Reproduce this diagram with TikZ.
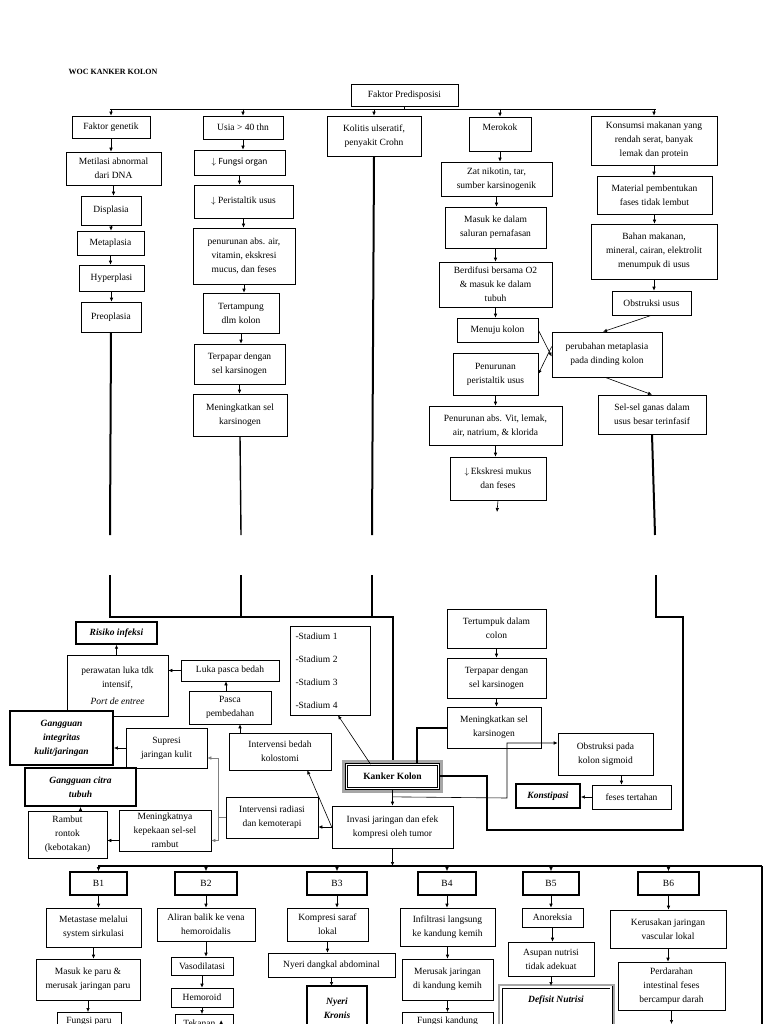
\documentclass[tikz,border=0pt]{standalone}
\usepackage{fontspec}
\usepackage{amssymb}
\setmainfont{Liberation Serif}
\newfontfamily\carl{Carlito}
\usetikzlibrary{arrows.meta}
\begin{document}
\begin{tikzpicture}[x=1pt,y=-1pt,
  every node/.style={font=\fontsize{9.5}{14}\selectfont},
  b/.style={draw,fill=white,align=center,inner sep=1pt,line width=0.6pt},
  dg/.style={b,line width=1.8pt,font=\fontsize{9.5}{14}\selectfont\bfseries\itshape},
  a/.style={-{Latex[length=4pt,width=3.5pt]},line width=0.6pt},
  tk/.style={line width=2pt},
  tm/.style={line width=1.4pt}]
\useasboundingbox (0,0) rectangle (768,1024);
\clip (0,0) rectangle (768,1024);
\newcommand\bx[7][]{\node[b,#1,minimum width={#5-#3},minimum height={#6-#4}] (#2) at ({(#3+#5)/2},{(#4+#6)/2}) {#7};}
\newcommand\dn[2]{\draw[a] (#1.south) -- (#1.south |- #2.north);}
\newcommand\cb[6][]{\draw[line width=0.6pt,#1] (#3,#4) rectangle (#5,1060); \node (#2) at ({(#3+#5)/2},{#4+9}) {#6};}

\node[anchor=west,font=\fontsize{8}{10}\selectfont\bfseries] (title) at (65,72) {WOC KANKER KOLON};
\bx{fp}{351}{84}{458}{106}{Faktor Predisposisi}
\coordinate (bus) at (0,109);
\draw[line width=0.6pt] (fp.south) -- (fp.south |- bus);
\draw[line width=0.6pt] (110,109) -- (656,109);

% column 1
\bx{g1}{72}{116}{150}{138}{Faktor genetik}
\bx{g2}{66}{152}{161}{185}{Metilasi abnormal\\dari DNA}
\bx{g3}{81}{196}{141}{225}{Displasia}
\bx{g4}{77}{231}{144}{255}{Metaplasia}
\bx{g5}{79}{265}{144}{291}{Hyperplasi}
\bx{g6}{81}{302}{141}{332}{Preoplasia}
% column 2
\bx{u1}{203}{116}{283}{139}{Usia > 40 thn}
\bx{u2}{194}{150}{285}{175}{$\downarrow$\ {\carl Fungsi organ}}
\bx{u3}{194}{185}{293}{218}{$\downarrow$\ Peristaltik usus}
\bx{u4}{193}{228}{295}{284}{penurunan abs. air,\\vitamin, ekskresi\\mucus, dan feses}
\bx{u5}{203}{293}{279}{333}{Tertampung\\dlm kolon}
\bx{u6}{194}{344}{285}{384}{Terpapar dengan\\sel karsinogen}
\bx{u7}{193}{394}{287}{436}{Meningkatkan sel\\karsinogen}
% column 3
\bx{k1}{327}{116}{421}{156}{Kolitis ulseratif,\\penyakit Crohn}
% column 4
\bx{m1}{469}{117}{531}{151}{Merokok\\\mbox{}}
\bx{m2}{441}{162}{552}{196}{Zat nikotin, tar,\\sumber karsinogenik}
\bx{m3}{445}{207}{546}{248}{Masuk ke dalam\\saluran pernafasan}
\bx{m4}{439}{262}{552}{307}{Berdifusi bersama O2\\\& masuk ke dalam\\tubuh}
\bx{m5}{457}{318}{538}{342}{Menuju kolon}
\bx{pm}{552}{332}{662}{377}{perubahan metaplasia\\pada dinding kolon}
\bx{m6}{453}{353}{538}{395}{Penurunan\\peristaltik usus}
\bx{m7}{429}{406}{562}{445}{Penurunan abs. Vit, lemak,\\air, natrium, \& klorida}
\bx{m8}{450}{457}{546}{500}{$\downarrow$\,Ekskresi mukus\\dan feses}
\coordinate (m8e) at (497,512);
% column 5
\bx{c1}{591}{116}{717}{165}{Konsumsi makanan yang\\rendah serat, banyak\\lemak dan protein}
\bx{c2}{597}{176}{712}{214}{Material pembentukan\\fases tidak lembut}
\bx{c3}{591}{224}{717}{279}{Bahan makanan,\\mineral, cairan, elektrolit\\menumpuk di usus}
\bx{c4}{612}{291}{691}{315}{Obstruksi usus}
\bx{sg}{598}{395}{706}{434}{Sel-sel ganas dalam\\usus besar terinfasif}

\foreach \n in {g1,u1,k1,m1,c1} \draw[a] (bus -| \n.north) -- (\n.north);
\dn{g1}{g2}\dn{g2}{g3}\dn{g3}{g4}\dn{g4}{g5}\dn{g5}{g6}
\dn{u1}{u2}\dn{u2}{u3}\dn{u3}{u4}\dn{u4}{u5}\dn{u5}{u6}\dn{u6}{u7}
\dn{m1}{m2}\dn{m2}{m3}\dn{m3}{m4}\dn{m4}{m5}\dn{m6}{m7}\dn{m7}{m8}
\draw[a] (m8.south) -- (m8e);
\dn{c1}{c2}\dn{c2}{c3}\dn{c3}{c4}
\draw[a] (c4.south) -- ([xshift=-4pt]pm.north);
\draw[a] (m5.east) -- ([yshift=-2pt]pm.west);
\draw[a] ([yshift=8pt]pm.west) -- (m6.east);
\draw[a] ([xshift=-2pt]pm.south) -- (sg.north);

% long lines
\draw[tk] (g6.south) -- (110,535);
\draw[tm] (u7.south) -- (241,535);
\draw[tk] (k1.south) -- (372,535);
\draw[tk] (sg.south) -- (655,535);

% lower part
\draw[tk] (110,575) -- (110,617) -- (392.5,617) -- (392.5,762);
\draw[tm] (241,575) -- (241,617);
\draw[tk] (372,575) -- (372,617);

\bx{st}{290}{626}{370}{715}{}
\node[anchor=north west,align=left,font=\fontsize{9.5}{23}\selectfont] (stt) at (292,629) {-Stadium 1\\-Stadium 2\\-Stadium 3\\-Stadium 4};
\bx{t1}{447}{609}{546}{648}{Tertumpuk dalam\\colon}
\bx{t2}{447}{658}{546}{698}{Terpapar dengan\\sel karsinogen}
\bx{t3}{447}{707}{541}{748}{Meningkatkan sel\\karsinogen}
\bx{ob}{558}{733}{653}{775}{Obstruksi pada\\kolon sigmoid}
\bx{ft}{592}{785}{671}{809}{feses tertahan}
\bx[dg]{ko}{516}{784}{580}{808}{Konstipasi}
\bx[dg,line width=1.4pt]{ri}{76}{622}{157}{644}{Risiko infeksi}
\bx{pw}{67}{655}{168}{716}{perawatan luka tdk\\intensif,\\[3pt]\textit{Port de entree}}
\bx{lk}{181}{660}{279}{681}{Luka pasca bedah}
\bx{pp}{189}{691}{271}{724}{Pasca\\pembedahan}
\bx[dg]{gi}{10}{711}{113}{765}{Gangguan\\integritas\\kulit/jaringan}
\bx{sp}{126}{728}{207}{768}{Supresi\\jaringan kulit}
\bx{ib}{229}{733}{331}{770}{Intervensi bedah\\kolostomi}
\bx[dg]{gc}{25}{768}{136}{806}{Gangguan citra\\tubuh}
\bx{rr}{28}{811}{107}{858}{Rambut\\rontok\\(kebotakan)}
\bx{mk}{119}{810}{211}{851}{Meningkatnya\\kepekaan sel-sel\\rambut}
\bx{ir}{226}{797}{318}{838}{Intervensi radiasi\\dan kemoterapi}
\draw[gray!70,line width=2.5pt] (343.5,761.5) rectangle (441.5,791.5);
\bx[line width=0.7pt,double,double distance=1.4pt,font=\fontsize{9.5}{14}\selectfont\bfseries]{kk}{346.5}{764.5}{438.5}{788.5}{Kanker Kolon}
\bx{iv}{332}{806}{453}{848}{Invasi jaringan dan efek\\kompresi oleh tumor}

\draw[tk] (656,575) -- (656,617) -- (683,617) -- (683,830) -- (487,830) -- (487,776) -- (kk.east |- 0,776);
\draw[tk] (t3.west) -| ([xshift=24.5pt]kk.north);
\dn{t1}{t2}\dn{t2}{t3}

\draw[a] ([xshift=-22pt]kk.north) -- ([xshift=8pt]st.south);
\draw[a] (iv.west) -- ([xshift=-24pt]ib.south east);
\draw[a] (iv.west) -- (iv.west -| ir.east);
\draw[a] ([xshift=-40pt]ib.north) -- ([xshift=10pt]pp.south);
\draw[a] ([xshift=-4pt]pp.north) -- ([xshift=-4pt]pp.north |- lk.south);
\draw[a] (lk.west) -- (lk.west -| pw.east);
\draw[a] (pw.north -| ri.south) -- (ri.south);
\coordinate (jr) at (218,817.5);
\draw[gray,line width=0.6pt] (ir.west) -- (jr);
\draw[a,gray] (jr) |- ([yshift=-10pt]sp.east);
\draw[a,gray] (jr) |- ([yshift=-10pt]mk.east);
\draw[a] (sp.west) -- (sp.west -| gi.east);
\draw[a] ([yshift=-10pt]mk.west) -- ([yshift=-10pt]mk.west -| rr.east);
\draw[a] (rr.north -| gc.south) -- (gc.south);
\draw[a] (kk.south) -- (kk.south |- iv.north);
\coordinate (kb) at (507,798);
\draw[a] ([yshift=-8pt]kk.south) -- (kb) |- ([yshift=11pt]ob.west);
\draw[a] ([xshift=16pt]ob.south) -- ([xshift=16pt]ob.south |- ft.north);
\draw[a] (ft.west) -- (ft.west -| ko.east);

% bottom section
\coordinate (bb) at (0,866);
\draw[a] (iv.south) -- (iv.south |- bb);
\draw[line width=1.2pt] (98,866) -- (762,866);
\draw[tk] (762,866) -- (762,1030);
\bx[line width=1.6pt]{B1}{70}{872}{127}{895}{B1}
\bx[line width=1.6pt]{B2}{175}{872}{237}{895}{B2}
\bx[line width=1.6pt]{B3}{307}{872}{367}{895}{B3}
\bx[line width=1.6pt]{B4}{418}{872}{476}{895}{B4}
\bx[line width=1.6pt]{B5}{523}{872}{579}{895}{B5}
\bx[line width=1.6pt]{B6}{638}{872}{699}{895}{B6}
\foreach \n in {B1,B2,B3,B4,B5,B6} \draw[a] (bb -| \n.north) -- (\n.north);

\bx{b11}{46}{908}{141}{947}{Metastase melalui\\system sirkulasi}
\bx{b12}{36}{959}{140}{1000}{Masuk ke paru \&\\merusak jaringan paru}
\cb{b13}{57}{1012}{121}{Fungsi paru}
\bx{b21}{157}{908}{255}{941}{Aliran balik ke vena\\hemoroidalis}
\bx{b22}{171}{957}{233}{975}{Vasodilatasi}
\bx{b23}{171}{988}{233}{1007}{Hemoroid}
\cb{b24}{175}{1014}{233}{Tekanan $\blacktriangle$}
\bx{b31}{287}{908}{368}{941}{Kompresi saraf\\lokal}
\bx{b32}{268}{953}{395}{977}{Nyeri dangkal abdominal}
\cb[line width=1.8pt]{b33}{307}{986}{367}{}
\node[font=\fontsize{9.5}{14}\selectfont\bfseries\itshape,align=center] (b33t) at (337,1008) {Nyeri\\Kronis};
\bx{b41}{400}{908}{495}{946}{Infiltrasi langsung\\ke kandung kemih}
\bx{b42}{402}{959}{493}{1000}{Merusak jaringan\\di kandung kemih}
\cb{b43}{402}{1012}{493}{Fungsi kandung}
\bx{b51}{522}{908}{583}{927}{Anoreksia}
\bx{b52}{508}{942}{594}{976}{Asupan nutrisi\\tidak adekuat}
\draw[line width=0.8pt,double,double distance=1.4pt] (501,987) rectangle (611,1060);
\draw[gray!70,line width=2pt] (498.5,984.5) rectangle (613.5,1062);
\node[font=\fontsize{9.5}{14}\selectfont\bfseries\itshape] (b53) at (556,1000) {Defisit Nutrisi};
\bx{b61}{610}{910}{726}{948}{Kerusakan jaringan\\vascular lokal}
\bx{b62}{618}{962}{725}{1010}{Perdarahan\\intestinal feses\\bercampur darah}
\coordinate (b6e) at (671.5,1024);

\dn{B1}{b11}\dn{b11}{b12}\draw[a] (b12.south) -- (b12.south |- 0,1012);
\dn{B2}{b21}\dn{b21}{b22}\dn{b22}{b23}\draw[a] (b23.south) -- (b23.south |- 0,1014);
\dn{B3}{b31}\dn{b31}{b32}\draw[a] (b32.south) -- (b32.south |- 0,986);
\dn{B4}{b41}\dn{b41}{b42}\draw[a] (b42.south) -- (b42.south |- 0,1012);
\dn{B5}{b51}\dn{b51}{b52}\draw[a] (b52.south) -- (b52.south |- 0,986);
\dn{B6}{b61}\dn{b61}{b62}\draw[a] (b62.south) -- (b6e);
\end{tikzpicture}
\end{document}
